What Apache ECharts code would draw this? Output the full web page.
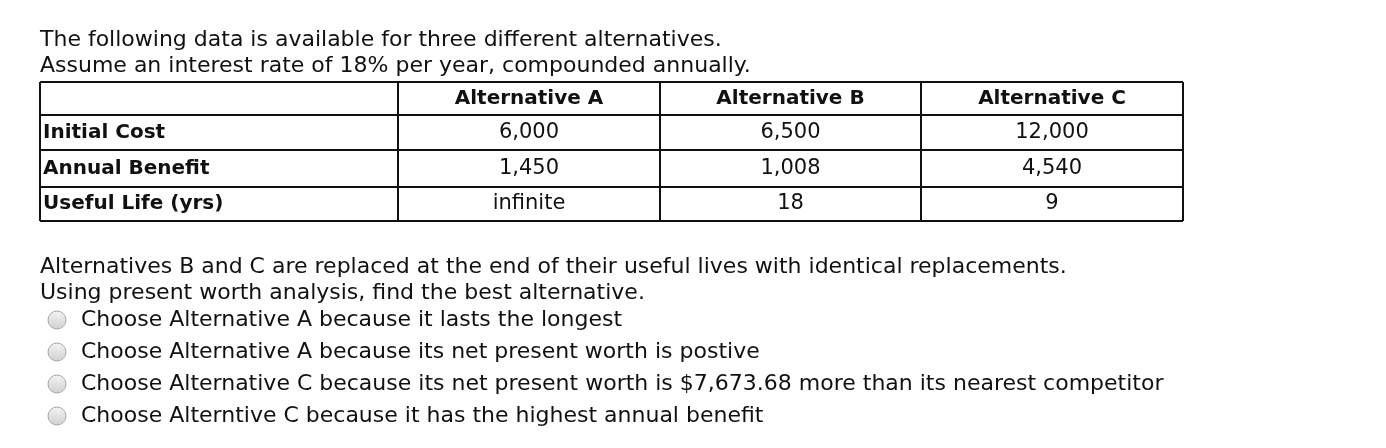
<!DOCTYPE html>
<html>
<head>
<meta charset="utf-8">
<script src="https://cdn.jsdelivr.net/npm/echarts@6/dist/echarts.min.js"></script>
<style>
  html, body { margin: 0; padding: 0; background: #fff; }
  #main { width: 1386px; height: 448px; }
</style>
</head>
<body>
<div id="main"></div>
<script>
// 题目文字
const introLines = [
  'The following data is available for three different alternatives.',
  'Assume an interest rate of 18% per year, compounded annually.'
]
const columns = ['Alternative A', 'Alternative B', 'Alternative C']
const rowLabels = ['Initial Cost', 'Annual Benefit', 'Useful Life (yrs)']
const altA = ['6,000', '1,450', 'infinite']
const altB = ['6,500', '1,008', '18']
const altC = ['12,000', '4,540', '9']
const questionLines = [
  'Alternatives B and C are replaced at the end of their useful lives with identical replacements.',
  'Using present worth analysis, find the best alternative.'
]
const choices = [
  'Choose Alternative A because it lasts the longest',
  'Choose Alternative A because its net present worth is postive',
  'Choose Alternative C because its net present worth is $7,673.68 more than its nearest competitor',
  'Choose Alterntive C because it has the highest annual benefit'
]

const font = '"DejaVu Sans", "Open Sans", sans-serif'
const colX = [40, 398, 660, 921, 1183]
const rowY = [82, 115, 150, 187, 221]

let elements = []
const text = function (str, x, y, opts) {
  opts = opts || {}
  elements.push({
    type: 'text', x: x, y: y,
    style: {
      text: str, fill: '#111', font: (opts.bold ? 'bold ' : '') + (opts.size || 22) + 'px ' + font,
      textAlign: opts.align || 'left', textVerticalAlign: 'middle'
    }
  })
}
const line = function (x1, y1, x2, y2) {
  elements.push({ type: 'line', shape: { x1: x1, y1: y1, x2: x2, y2: y2 }, style: { stroke: '#111', lineWidth: 2 } })
}

introLines.forEach((s, i) => text(s, 40, 40 + i * 26, { size: 22 }))

// 表格线
rowY.forEach(y => line(colX[0], y, colX[4], y))
colX.forEach(x => line(x, rowY[0], x, rowY[4]))

columns.forEach((c, i) => text(c, (colX[i + 1] + colX[i + 2]) / 2, (rowY[0] + rowY[1]) / 2, { bold: true, size: 20, align: 'center' }))
const cols = [altA, altB, altC]
rowLabels.forEach((r, j) => {
  let cy = (rowY[j + 1] + rowY[j + 2]) / 2
  text(r, 43, cy, { bold: true, size: 20 })
  cols.forEach((vals, i) => text(vals[j], (colX[i + 1] + colX[i + 2]) / 2, cy, { size: 21, align: 'center' }))
})

questionLines.forEach((s, i) => text(s, 40, 267 + i * 26, { size: 22 }))

choices.forEach((s, i) => {
  let cy = 320 + i * 32
  elements.push({
    type: 'circle', shape: { cx: 57, cy: cy, r: 9 },
    style: {
      fill: new echarts.graphic.LinearGradient(0, 0, 0, 1, [{ offset: 0, color: '#f4f4f4' }, { offset: 1, color: '#d0d0d0' }]),
      stroke: '#a8a8a8', lineWidth: 1
    }
  })
  text(s, 81, cy, { size: 22 })
})

let myChart = echarts.init(document.getElementById('main'))
myChart.setOption({ backgroundColor: '#fff', graphic: { elements: elements } })
</script>
</body>
</html>
